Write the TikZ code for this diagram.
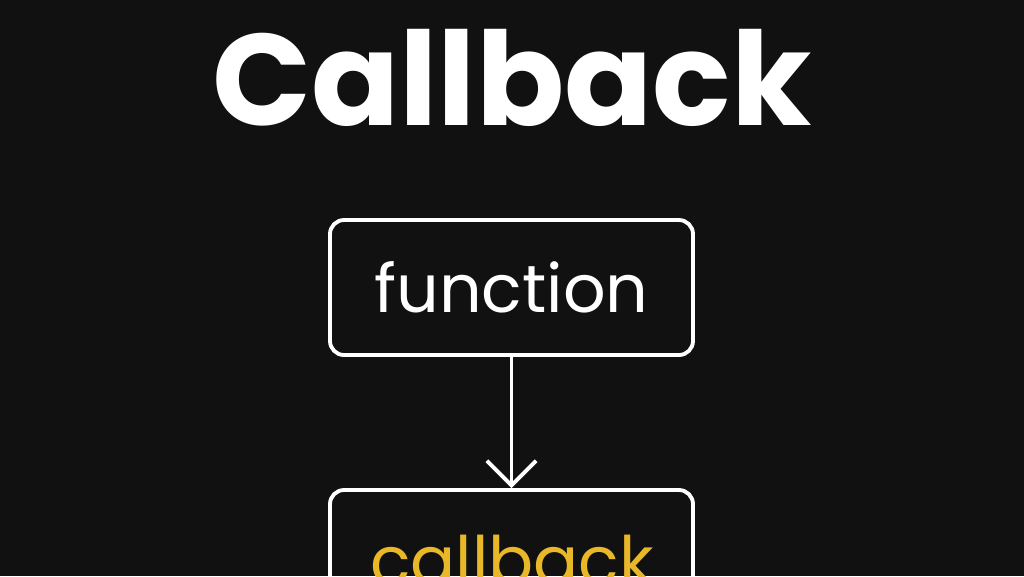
\documentclass[tikz,border=0pt]{standalone}
\usepackage{fontspec}
\setmainfont{Poppins}
\usetikzlibrary{arrows.meta,positioning}
\definecolor{bg}{HTML}{111111}
\definecolor{cbyellow}{HTML}{E8B828}
\tikzset{box/.style={draw=white, line width=1.1pt, rounded corners=4pt, minimum width=3.63cm, minimum height=1.35cm},
  lbl/.style={font=\fontsize{19}{22}\selectfont}}
\begin{document}
\begin{tikzpicture}
    \clip (0,0) rectangle (10.24,-5.76);
    \fill[bg] (0,0) rectangle (10.24,-5.76);

    \node[white, font=\fontsize{37}{42}\selectfont\bfseries] (title) at (5.12,-0.78) {Callback};

    \node[box, lbl, text=white] (func) at (5.115,-2.875) {function};
    \node[box, lbl, text=cbyellow, text depth=0pt] (cb) at (5.115,-5.575) {};
    \node[lbl, text=cbyellow] (cbtext) at (5.12,-5.6) {callback};

    \draw[white, line width=1.1pt, -{Straight Barb[length=7pt,width=14pt]}] (func) -- (cb);
\end{tikzpicture}
\end{document}
